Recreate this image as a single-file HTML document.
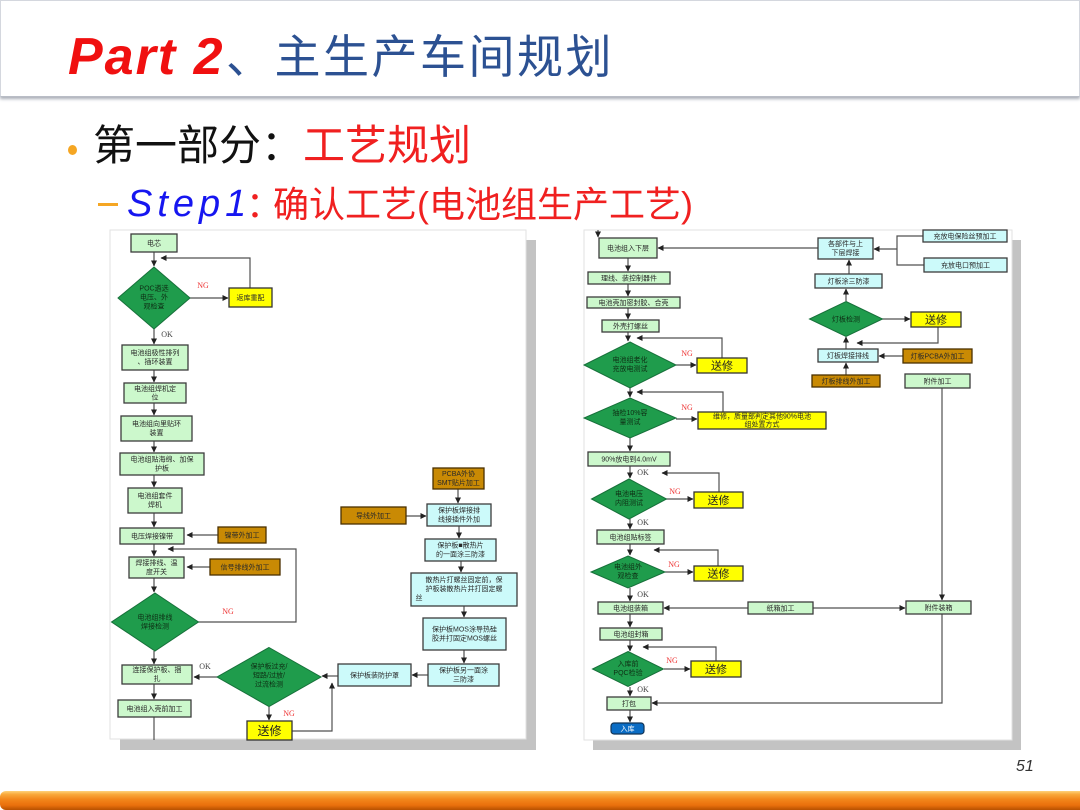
<!DOCTYPE html>
<html><head><meta charset="utf-8"><style>
html,body{margin:0;padding:0;background:#fff;}
body{width:1080px;height:810px;position:relative;overflow:hidden;font-family:"Liberation Sans","Noto Sans CJK SC",sans-serif;}
.tb{position:absolute;left:0;top:0;width:1078px;height:95px;border:1px solid #d4d7de;border-bottom:1px solid #b9bdc6;box-shadow:0 2px 3px #a9adb6;background:#fff;}
.abs{position:absolute;white-space:nowrap;}
.bar{position:absolute;left:0;top:791px;width:1080px;height:19px;border-radius:6px 0 0 6px;background:linear-gradient(#ffd27a 0%,#f9a83a 18%,#f2851a 45%,#ea700c 75%,#b65000 100%);}
</style></head><body>
<div class="tb"></div>
<div class="abs" style="left:68px;top:27px;font:italic bold 52px/60px 'Liberation Sans',sans-serif;color:#f01010;letter-spacing:2px;">Part 2</div>
<div class="abs" style="left:226px;top:34px;font-size:46px;line-height:46px;color:#2c5192;font-family:'Liberation Sans','Noto Sans CJK SC',sans-serif;letter-spacing:2.5px;">、主生产车间规划</div>

<div class="abs" style="left:68px;top:145px;width:9px;height:10px;border-radius:50%;background:#f5a623;"></div>
<div class="abs" style="left:93px;top:125px;font-size:42px;line-height:42px;color:#111;font-family:'Liberation Sans','Noto Sans CJK SC',sans-serif;">第一部分：<span style="color:#f02020">工艺规划</span></div>

<div class="abs" style="left:98px;top:203px;width:20px;height:3px;background:#f5a623;"></div>
<div class="abs" style="left:127px;top:180px;font:italic 38px/48px 'Liberation Sans',sans-serif;color:#1616f0;letter-spacing:5px;">Step1</div>
<div class="abs" style="left:246px;top:187px;font-size:36px;line-height:36px;color:#f02020;font-family:'Liberation Sans','Noto Sans CJK SC',sans-serif;">：</div>
<div class="abs" style="left:273px;top:187px;font-size:36px;line-height:36px;color:#f02020;font-family:'Liberation Sans','Noto Sans CJK SC',sans-serif;">确认工艺(电池组生产工艺)</div>

<svg class="abs" style="left:0;top:0" width="1080" height="810" viewBox="0 0 1080 810" xmlns="http://www.w3.org/2000/svg">
<defs>
<marker id="a" markerWidth="6" markerHeight="6" refX="5.5" refY="3" orient="auto" markerUnits="userSpaceOnUse"><path d="M0,0 L6,3 L0,6 z" fill="#222"/></marker>
</defs>
<style>
.g{fill:#ccf8cc;stroke:#3c3c3c;stroke-width:1.3}
.c{fill:#ccfafa;stroke:#3c3c3c;stroke-width:1.3}
.y{fill:#ffff00;stroke:#333;stroke-width:1.3}
.o{fill:#c98a04;stroke:#4a3000;stroke-width:1.3}
.d{fill:#1f9c4c;stroke:#17703a;stroke-width:1}
.l{fill:none;stroke:#505050;stroke-width:1.2}
text{font-family:"Liberation Sans","Noto Sans CJK SC",sans-serif;font-size:7px;fill:#2a2a2a;text-anchor:middle}
.dt{fill:#0e2e14}
.ng{fill:#ee3333;font-family:"Liberation Serif",serif;font-size:8px}
.ok{fill:#444;font-family:"Liberation Serif",serif;font-size:8px}
.big{font-size:12px;fill:#222}
.mid{font-size:11px;fill:#222}
</style>
<!-- panels -->
<rect x="120" y="240" width="416" height="510" fill="#c3c3c3"/>
<rect x="110" y="230" width="416" height="509" fill="#fff" stroke="#e2e2e2"/>
<rect x="593" y="240" width="428" height="510" fill="#c3c3c3"/>
<rect x="584" y="230" width="428" height="510" fill="#fff" stroke="#e2e2e2"/>

<!-- LEFT connectors -->
<path class="l" d="M154,252 V266" marker-end="url(#a)"/>
<path class="l" d="M250,288 V258 H161" marker-end="url(#a)"/>
<path class="l" d="M190,298 H228" marker-end="url(#a)"/>
<path class="l" d="M154,329 V344" marker-end="url(#a)"/>
<path class="l" d="M154,370 V382" marker-end="url(#a)"/>
<path class="l" d="M154,403 V415" marker-end="url(#a)"/>
<path class="l" d="M154,441 V452" marker-end="url(#a)"/>
<path class="l" d="M154,475 V487" marker-end="url(#a)"/>
<path class="l" d="M154,513 V527" marker-end="url(#a)"/>
<path class="l" d="M218,535 H187" marker-end="url(#a)"/>
<path class="l" d="M154,544 V556" marker-end="url(#a)"/>
<path class="l" d="M198,622 H296 V549 H168" marker-end="url(#a)"/>
<path class="l" d="M210,567 H187" marker-end="url(#a)"/>
<path class="l" d="M154,578 V592" marker-end="url(#a)"/>
<path class="l" d="M154,651 V664" marker-end="url(#a)"/>
<path class="l" d="M217,677 H194" marker-end="url(#a)"/>
<path class="l" d="M154,684 V699" marker-end="url(#a)"/>
<path class="l" d="M154,717 V740"/>
<path class="l" d="M458,489 V503" marker-end="url(#a)"/>
<path class="l" d="M406,516 H426" marker-end="url(#a)"/>
<path class="l" d="M459,526 V538" marker-end="url(#a)"/>
<path class="l" d="M461,561 V572" marker-end="url(#a)"/>
<path class="l" d="M464,606 V617" marker-end="url(#a)"/>
<path class="l" d="M464,650 V663" marker-end="url(#a)"/>
<path class="l" d="M428,675 H412" marker-end="url(#a)"/>
<path class="l" d="M338,676 H322" marker-end="url(#a)"/>
<path class="l" d="M269,706 V720" marker-end="url(#a)"/>
<path class="l" d="M292,731 H332 V683" marker-end="url(#a)"/>

<!-- LEFT nodes -->
<rect class="g" x="131" y="234" width="46" height="18"/><text x="154" y="245.5">电芯</text>
<polygon class="d" points="154,267 190,298 154,329 118,298"/>
<text class="dt" x="154" y="290.5">POC遴选</text><text class="dt" x="154" y="299.5">电压、外</text><text class="dt" x="154" y="308.5">观检查</text>
<text class="ng" x="203" y="288">NG</text>
<rect class="y" x="229" y="288" width="43" height="19"/><text x="250.5" y="300">返库重配</text>
<text class="ok" x="167" y="337">OK</text>
<rect class="g" x="122" y="345" width="66" height="25"/><text x="155" y="355">电池组极性排列</text><text x="155" y="364">、插环装置</text>
<rect class="g" x="124" y="383" width="62" height="20"/><text x="155" y="391">电池组焊机定</text><text x="155" y="399.5">位</text>
<rect class="g" x="121" y="416" width="71" height="25"/><text x="156.5" y="426">电池组向里贴环</text><text x="156.5" y="435">装置</text>
<rect class="g" x="120" y="453" width="84" height="22"/><text x="162" y="461.5">电池组贴海绵、加保</text><text x="162" y="470.5">护板</text>
<rect class="g" x="128" y="488" width="54" height="25"/><text x="155" y="498">电池组套件</text><text x="155" y="507">焊机</text>
<rect class="g" x="120" y="528" width="64" height="16"/><text x="152" y="538.5">电压焊接镍带</text>
<rect class="o" x="218" y="527" width="48" height="16"/><text x="242" y="537.5">镍带外加工</text>
<rect class="g" x="129" y="557" width="55" height="21"/><text x="156.5" y="565">焊接排线、温</text><text x="156.5" y="574">度开关</text>
<rect class="o" x="210" y="559" width="70" height="16"/><text x="245" y="569.5">信号排线外加工</text>
<polygon class="d" points="155,593 198.5,622 155,651 111.5,622"/>
<text class="dt" x="155" y="619.5">电池组排线</text><text class="dt" x="155" y="628.5">焊接检测</text>
<text class="ng" x="228" y="614">NG</text>
<text class="ok" x="205" y="669">OK</text>
<rect class="g" x="122" y="665" width="70" height="19"/><text x="157" y="672">连接保护板、捆</text><text x="157" y="681">扎</text>
<rect class="g" x="118" y="700" width="73" height="17"/><text x="154.5" y="711">电池组入壳前加工</text>
<polygon class="d" points="269,647.5 321,677 269,706.5 217,677"/>
<text class="dt" x="269" y="668.5">保护板过充/</text><text class="dt" x="269" y="677.5">短路/过放/</text><text class="dt" x="269" y="686.5">过流检测</text>
<text class="ng" x="289" y="716">NG</text>
<rect class="y" x="247" y="721" width="45" height="19"/><text class="big" x="269.5" y="735">送修</text>
<rect class="o" x="433" y="468" width="51" height="21"/><text x="458.5" y="476">PCBA外协</text><text x="458.5" y="485">SMT贴片加工</text>
<rect class="o" x="341" y="507" width="65" height="17"/><text x="373.5" y="518">导线外加工</text>
<rect class="c" x="427" y="504" width="64" height="22"/><text x="459" y="512.5">保护板焊接排</text><text x="459" y="521.5">线接插件外加</text>
<rect class="c" x="425" y="539" width="71" height="22"/><text x="460.5" y="547.5">保护板■散热片</text><text x="460.5" y="556.5">的一面涂三防漆</text>
<rect class="c" x="411" y="573" width="106" height="33"/><text x="464" y="582">散热片打螺丝固定前，保</text><text x="464" y="591">护板装散热片并打固定螺</text><text x="419" y="600">丝</text>
<rect class="c" x="423" y="618" width="83" height="32"/><text x="464.5" y="631.5">保护板MOS涂导热硅</text><text x="464.5" y="640.5">胶并打固定MOS螺丝</text>
<rect class="c" x="428" y="664" width="71" height="22"/><text x="463.5" y="672.5">保护板另一面涂</text><text x="463.5" y="681.5">三防漆</text>
<rect class="c" x="338" y="664" width="73" height="22"/><text x="374.5" y="677.5">保护板装防护罩</text>

<!-- RIGHT connectors -->
<path class="l" d="M598,230 V237" marker-end="url(#a)"/>
<path class="l" d="M818,248 H658" marker-end="url(#a)"/>
<path class="l" d="M628,258 V271" marker-end="url(#a)"/>
<path class="l" d="M628,284 V296" marker-end="url(#a)"/>
<path class="l" d="M628,308 V319" marker-end="url(#a)"/>
<path class="l" d="M628,332 V341" marker-end="url(#a)"/>
<path class="l" d="M676,365 H696" marker-end="url(#a)"/>
<path class="l" d="M722,358 V338 H637" marker-end="url(#a)"/>
<path class="l" d="M630,388 V397" marker-end="url(#a)"/>
<path class="l" d="M676,419 H697" marker-end="url(#a)"/>
<path class="l" d="M723,412 V392 H637" marker-end="url(#a)"/>
<path class="l" d="M630,438 V451" marker-end="url(#a)"/>
<path class="l" d="M630,466 V478" marker-end="url(#a)"/>
<path class="l" d="M719,492 V473 H662" marker-end="url(#a)"/>
<path class="l" d="M666,499 H693" marker-end="url(#a)"/>
<path class="l" d="M630,519 V529" marker-end="url(#a)"/>
<path class="l" d="M630,544 V555" marker-end="url(#a)"/>
<path class="l" d="M718,566 V550 H654" marker-end="url(#a)"/>
<path class="l" d="M665,572 H693" marker-end="url(#a)"/>
<path class="l" d="M630,588 V601" marker-end="url(#a)"/>
<path class="l" d="M748,608 H664" marker-end="url(#a)"/>
<path class="l" d="M813,608 H905" marker-end="url(#a)"/>
<path class="l" d="M942,388 V600" marker-end="url(#a)"/>
<path class="l" d="M630,614 V627" marker-end="url(#a)"/>
<path class="l" d="M630,640 V651" marker-end="url(#a)"/>
<path class="l" d="M716,661 V647 H643" marker-end="url(#a)"/>
<path class="l" d="M664,669 H690" marker-end="url(#a)"/>
<path class="l" d="M630,687 V696" marker-end="url(#a)"/>
<path class="l" d="M942,614 V703 H652" marker-end="url(#a)"/>
<path class="l" d="M630,710 V722" marker-end="url(#a)"/>
<path class="l" d="M897,249 H874" marker-end="url(#a)"/>
<path class="l" d="M923,236 H897 V265 H924"/>
<path class="l" d="M849,274 V260" marker-end="url(#a)"/>
<path class="l" d="M846,301 V289" marker-end="url(#a)"/>
<path class="l" d="M882,319 H910" marker-end="url(#a)"/>
<path class="l" d="M938,327 V343 H857" marker-end="url(#a)"/>
<path class="l" d="M846,349 V337" marker-end="url(#a)"/>
<path class="l" d="M903,356 H879" marker-end="url(#a)"/>
<path class="l" d="M846,375 V363" marker-end="url(#a)"/>

<!-- RIGHT nodes -->
<rect class="g" x="599" y="238" width="58" height="20"/><text x="628" y="250.5">电池组入下层</text>
<rect class="g" x="588" y="272" width="82" height="12"/><text x="629" y="280.5">理线、装控制器件</text>
<rect class="g" x="587" y="297" width="93" height="11"/><text x="633.5" y="305">电池壳加密封胶、合壳</text>
<rect class="g" x="602" y="320" width="57" height="12"/><text x="630.5" y="328.5">外壳打螺丝</text>
<polygon class="d" points="630,342 676,365 630,388 584,365"/>
<text class="dt" x="630" y="362">电池组老化</text><text class="dt" x="630" y="371">充放电测试</text>
<text class="ng" x="687" y="356">NG</text>
<rect class="y" x="697" y="358" width="50" height="15"/><text class="mid" x="722" y="369.5">送修</text>
<polygon class="d" points="630,398 676,418 630,438 584,418"/>
<text class="dt" x="630" y="415">抽检10%容</text><text class="dt" x="630" y="424">量测试</text>
<text class="ng" x="687" y="410">NG</text>
<rect class="y" x="698" y="412" width="128" height="17"/><text x="762" y="418.5">维修，质量部判定其他90%电池</text><text x="762" y="426.5">组处置方式</text>
<rect class="g" x="588" y="452" width="82" height="14"/><text x="629" y="461.5">90%放电到4.0mV</text>
<text class="ok" x="643" y="475">OK</text>
<polygon class="d" points="629,479 666.5,499 629,519 591.5,499"/>
<text class="dt" x="629" y="496">电池电压</text><text class="dt" x="629" y="505">内阻测试</text>
<text class="ng" x="675" y="494">NG</text>
<rect class="y" x="694" y="492" width="49" height="16"/><text class="mid" x="718.5" y="504">送修</text>
<text class="ok" x="643" y="525">OK</text>
<rect class="g" x="597" y="530" width="67" height="14"/><text x="630.5" y="539.5">电池组贴标签</text>
<polygon class="d" points="628,556 665,572 628,588 591,572"/>
<text class="dt" x="628" y="569">电池组外</text><text class="dt" x="628" y="578">观检查</text>
<text class="ng" x="674" y="567">NG</text>
<rect class="y" x="694" y="566" width="49" height="15"/><text class="mid" x="718.5" y="577.5">送修</text>
<text class="ok" x="643" y="597">OK</text>
<rect class="g" x="598" y="602" width="65" height="12"/><text x="630.5" y="610.5">电池组装箱</text>
<rect class="g" x="748" y="602" width="65" height="12"/><text x="780.5" y="610.5">纸箱加工</text>
<rect class="g" x="600" y="628" width="62" height="12"/><text x="631" y="636.5">电池组封箱</text>
<polygon class="d" points="628,651.5 663.5,669 628,686.5 592.5,669"/>
<text class="dt" x="628" y="666">入库前</text><text class="dt" x="628" y="675">PQC检验</text>
<text class="ng" x="672" y="663">NG</text>
<rect class="y" x="691" y="661" width="50" height="16"/><text class="mid" x="716" y="673">送修</text>
<text class="ok" x="643" y="692">OK</text>
<rect class="g" x="607" y="697" width="44" height="13"/><text x="629" y="706">打包</text>
<rect x="611" y="723" width="33" height="11" rx="3" fill="#0a6cc4" stroke="#123456" stroke-width="1.2"/><text x="627.5" y="731" style="fill:#fff">入库</text>
<rect class="c" x="818" y="238" width="55" height="21"/><text x="845.5" y="246">各部件与上</text><text x="845.5" y="255">下层焊接</text>
<rect class="c" x="923" y="230" width="84" height="12"/><text x="965" y="238.5">充放电保险丝预加工</text>
<rect class="c" x="924" y="258" width="83" height="14"/><text x="965.5" y="267.5">充放电口预加工</text>
<rect class="c" x="815" y="274" width="67" height="14"/><text x="848.5" y="283.5">灯板涂三防漆</text>
<polygon class="d" points="846,301.5 882.5,319 846,336.5 809.5,319"/>
<text class="dt" x="846" y="321.5">灯板检测</text>
<rect class="y" x="911" y="312" width="50" height="15"/><text class="mid" x="936" y="323.5">送修</text>
<rect class="c" x="818" y="349" width="60" height="13"/><text x="848" y="358">灯板焊接排线</text>
<rect class="o" x="903" y="349" width="69" height="14"/><text x="937.5" y="358.5">灯板PCBA外加工</text>
<rect class="o" x="812" y="375" width="68" height="12"/><text x="846" y="383.5">灯板排线外加工</text>
<rect class="g" x="905" y="374" width="65" height="14"/><text x="937.5" y="383.5">附件加工</text>
<rect class="g" x="906" y="601" width="65" height="13"/><text x="938.5" y="610">附件装箱</text>
</svg>

<div class="abs" style="left:1016px;top:758px;font:italic 16px/18px 'Liberation Sans',sans-serif;color:#333;">51</div>
<div class="bar"></div>
</body></html>
